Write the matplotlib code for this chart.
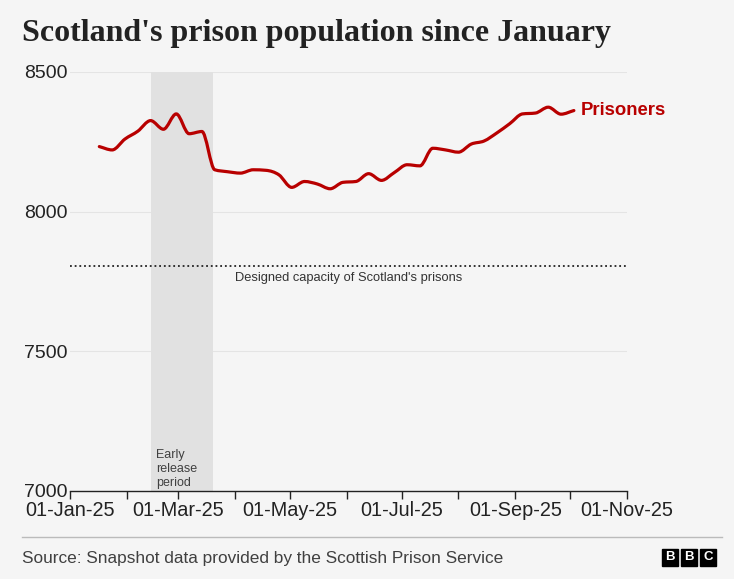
import numpy as np
import matplotlib
matplotlib.use("Agg")
import matplotlib.pyplot as plt
import matplotlib.dates as mdates
from matplotlib.path import Path
from matplotlib.patches import PathPatch, Rectangle
from datetime import datetime

# ==========================================================
# DATA (weekly snapshots)
# ==========================================================
week_dates = [
    "2025-01-17", "2025-01-24", "2025-01-31", "2025-02-07", "2025-02-14",
    "2025-02-21", "2025-02-28", "2025-03-07", "2025-03-14", "2025-03-21",
    "2025-03-28", "2025-04-04", "2025-04-11", "2025-04-18", "2025-04-25",
    "2025-05-02", "2025-05-09", "2025-05-16", "2025-05-23", "2025-05-30",
    "2025-06-06", "2025-06-13", "2025-06-20", "2025-06-27", "2025-07-04",
    "2025-07-11", "2025-07-18", "2025-07-25", "2025-08-01", "2025-08-08",
    "2025-08-15", "2025-08-22", "2025-08-29", "2025-09-05", "2025-09-12",
    "2025-09-19", "2025-09-26", "2025-10-03",
]
prisoners = [
    8233, 8221, 8260, 8288, 8326, 8295, 8350, 8279, 8287, 8150,
    8143, 8138, 8150, 8148, 8132, 8087, 8108, 8099, 8082, 8105,
    8108, 8136, 8112, 8140, 8168, 8164, 8227, 8221, 8213, 8242,
    8253, 8282, 8315, 8350, 8353, 8374, 8349, 8362,
]
design_capacity = 7807
early_release = ("2025-02-14", "2025-03-20")

y_ticks = [7000, 7500, 8000, 8500]
month_ticks = ["2025-%02d-01" % m for m in range(1, 12)]
month_labels = ["01-Jan-25", "", "01-Mar-25", "", "01-May-25", "",
                "01-Jul-25", "", "01-Sep-25", "", "01-Nov-25"]

TITLE = "Scotland's prison population since January"
SOURCE = "Source: Snapshot data provided by the Scottish Prison Service"

BG = "#f5f5f5"
RED = "#b80000"
SANS = ["Liberation Sans", "DejaVu Sans"]
SERIF = ["Liberation Serif", "DejaVu Serif"]


def to_num(s):
    return mdates.date2num(datetime.strptime(s, "%Y-%m-%d"))


def monotone_path(x, y):
    """Smooth monotone cubic curve through the points (like d3 curveMonotoneX)."""
    x = np.asarray(x, float)
    y = np.asarray(y, float)
    h = np.diff(x)
    s = np.diff(y) / h
    m = np.zeros_like(y)
    m[0], m[-1] = s[0], s[-1]
    for i in range(1, len(y) - 1):
        s0, s1 = s[i - 1], s[i]
        p = (s0 * h[i] + s1 * h[i - 1]) / (h[i - 1] + h[i])
        m[i] = (np.sign(s0) + np.sign(s1)) * min(abs(s0), abs(s1), 0.5 * abs(p))
    verts = [(x[0], y[0])]
    codes = [Path.MOVETO]
    for i in range(len(h)):
        d = h[i] / 3
        verts += [(x[i] + d, y[i] + m[i] * d),
                  (x[i + 1] - d, y[i + 1] - m[i + 1] * d),
                  (x[i + 1], y[i + 1])]
        codes += [Path.CURVE4] * 3
    return Path(verts, codes)


x = [to_num(d) for d in week_dates]

fig = plt.figure(figsize=(7.34, 5.79), dpi=100, facecolor=BG)
ax = fig.add_axes([70 / 734, 88 / 579, 557 / 734, 419 / 579], facecolor=BG)

ax.set_xlim(to_num("2025-01-01"), to_num("2025-11-01"))
ax.set_ylim(7000, 8500)

# early release shading
ax.axvspan(to_num(early_release[0]), to_num(early_release[1]),
           color="#e1e1e1", lw=0, zorder=1)
ax.text(to_num(early_release[0]) + 3, 7008, "Early\nrelease\nperiod",
        fontsize=9, color="#404040", family=SANS, va="bottom", ha="left",
        linespacing=1.2, zorder=3)

# gridlines
for yt in y_ticks[1:]:
    ax.axhline(yt, color="#e4e4e4", lw=0.8, zorder=0)

# design capacity
ax.axhline(design_capacity, color="#222222", lw=1.3, ls=(0, (1, 1.6)), zorder=2)
ax.text(to_num("2025-04-01"), design_capacity - 22,
        "Designed capacity of Scotland's prisons",
        fontsize=9.3, color="#333333", family=SANS, va="top", ha="left")

# prisoner line
ax.add_patch(PathPatch(monotone_path(x, prisoners), fill=False, edgecolor=RED,
                       lw=2.3, capstyle="round", joinstyle="round", zorder=4))
ax.text(x[-1] + 4, prisoners[-1], "Prisoners", color=RED, fontsize=13.3,
        fontweight="bold", family=SANS, va="center", ha="left")

# axes styling
for side in ["top", "right", "left"]:
    ax.spines[side].set_visible(False)
ax.spines["bottom"].set_color("#222222")
ax.spines["bottom"].set_linewidth(1.0)
ax.spines["bottom"].set_zorder(5)

ax.set_yticks(y_ticks)
ax.set_yticklabels([str(v) for v in y_ticks], family=SANS, fontsize=14,
                   color="#222222")
ax.tick_params(axis="y", length=0, pad=2)

ax.set_xticks([to_num(d) for d in month_ticks])
ax.set_xticklabels(month_labels, family=SANS, fontsize=14.3, color="#222222")
ax.tick_params(axis="x", length=6, width=1.0, color="#222222", pad=1)

# title, footer
fig.text(22 / 734, 1 - 41 / 579, TITLE, family=SERIF, fontsize=23,
         fontweight="bold", color="#222222", va="baseline", ha="left")
fig.add_artist(plt.Line2D([22 / 734, 722 / 734], [1 - 537 / 579, 1 - 537 / 579],
                          color="#bbbbbb", lw=1.0))
fig.text(22 / 734, 1 - 558 / 579, SOURCE, family=SANS, fontsize=12.4,
         color="#404040", va="center", ha="left")

# BBC blocks
for i, letter in enumerate("BBC"):
    x0 = (662 + i * 19) / 734
    fig.add_artist(Rectangle((x0, 1 - 566 / 579), 16 / 734, 17 / 579,
                             transform=fig.transFigure, color="#000000"))
    fig.text(x0 + 8 / 734, 1 - 557.5 / 579, letter, family=SANS, fontsize=9.5,
             fontweight="bold", color="white", ha="center", va="center")

fig.savefig("out.png", dpi=100, facecolor=BG)
